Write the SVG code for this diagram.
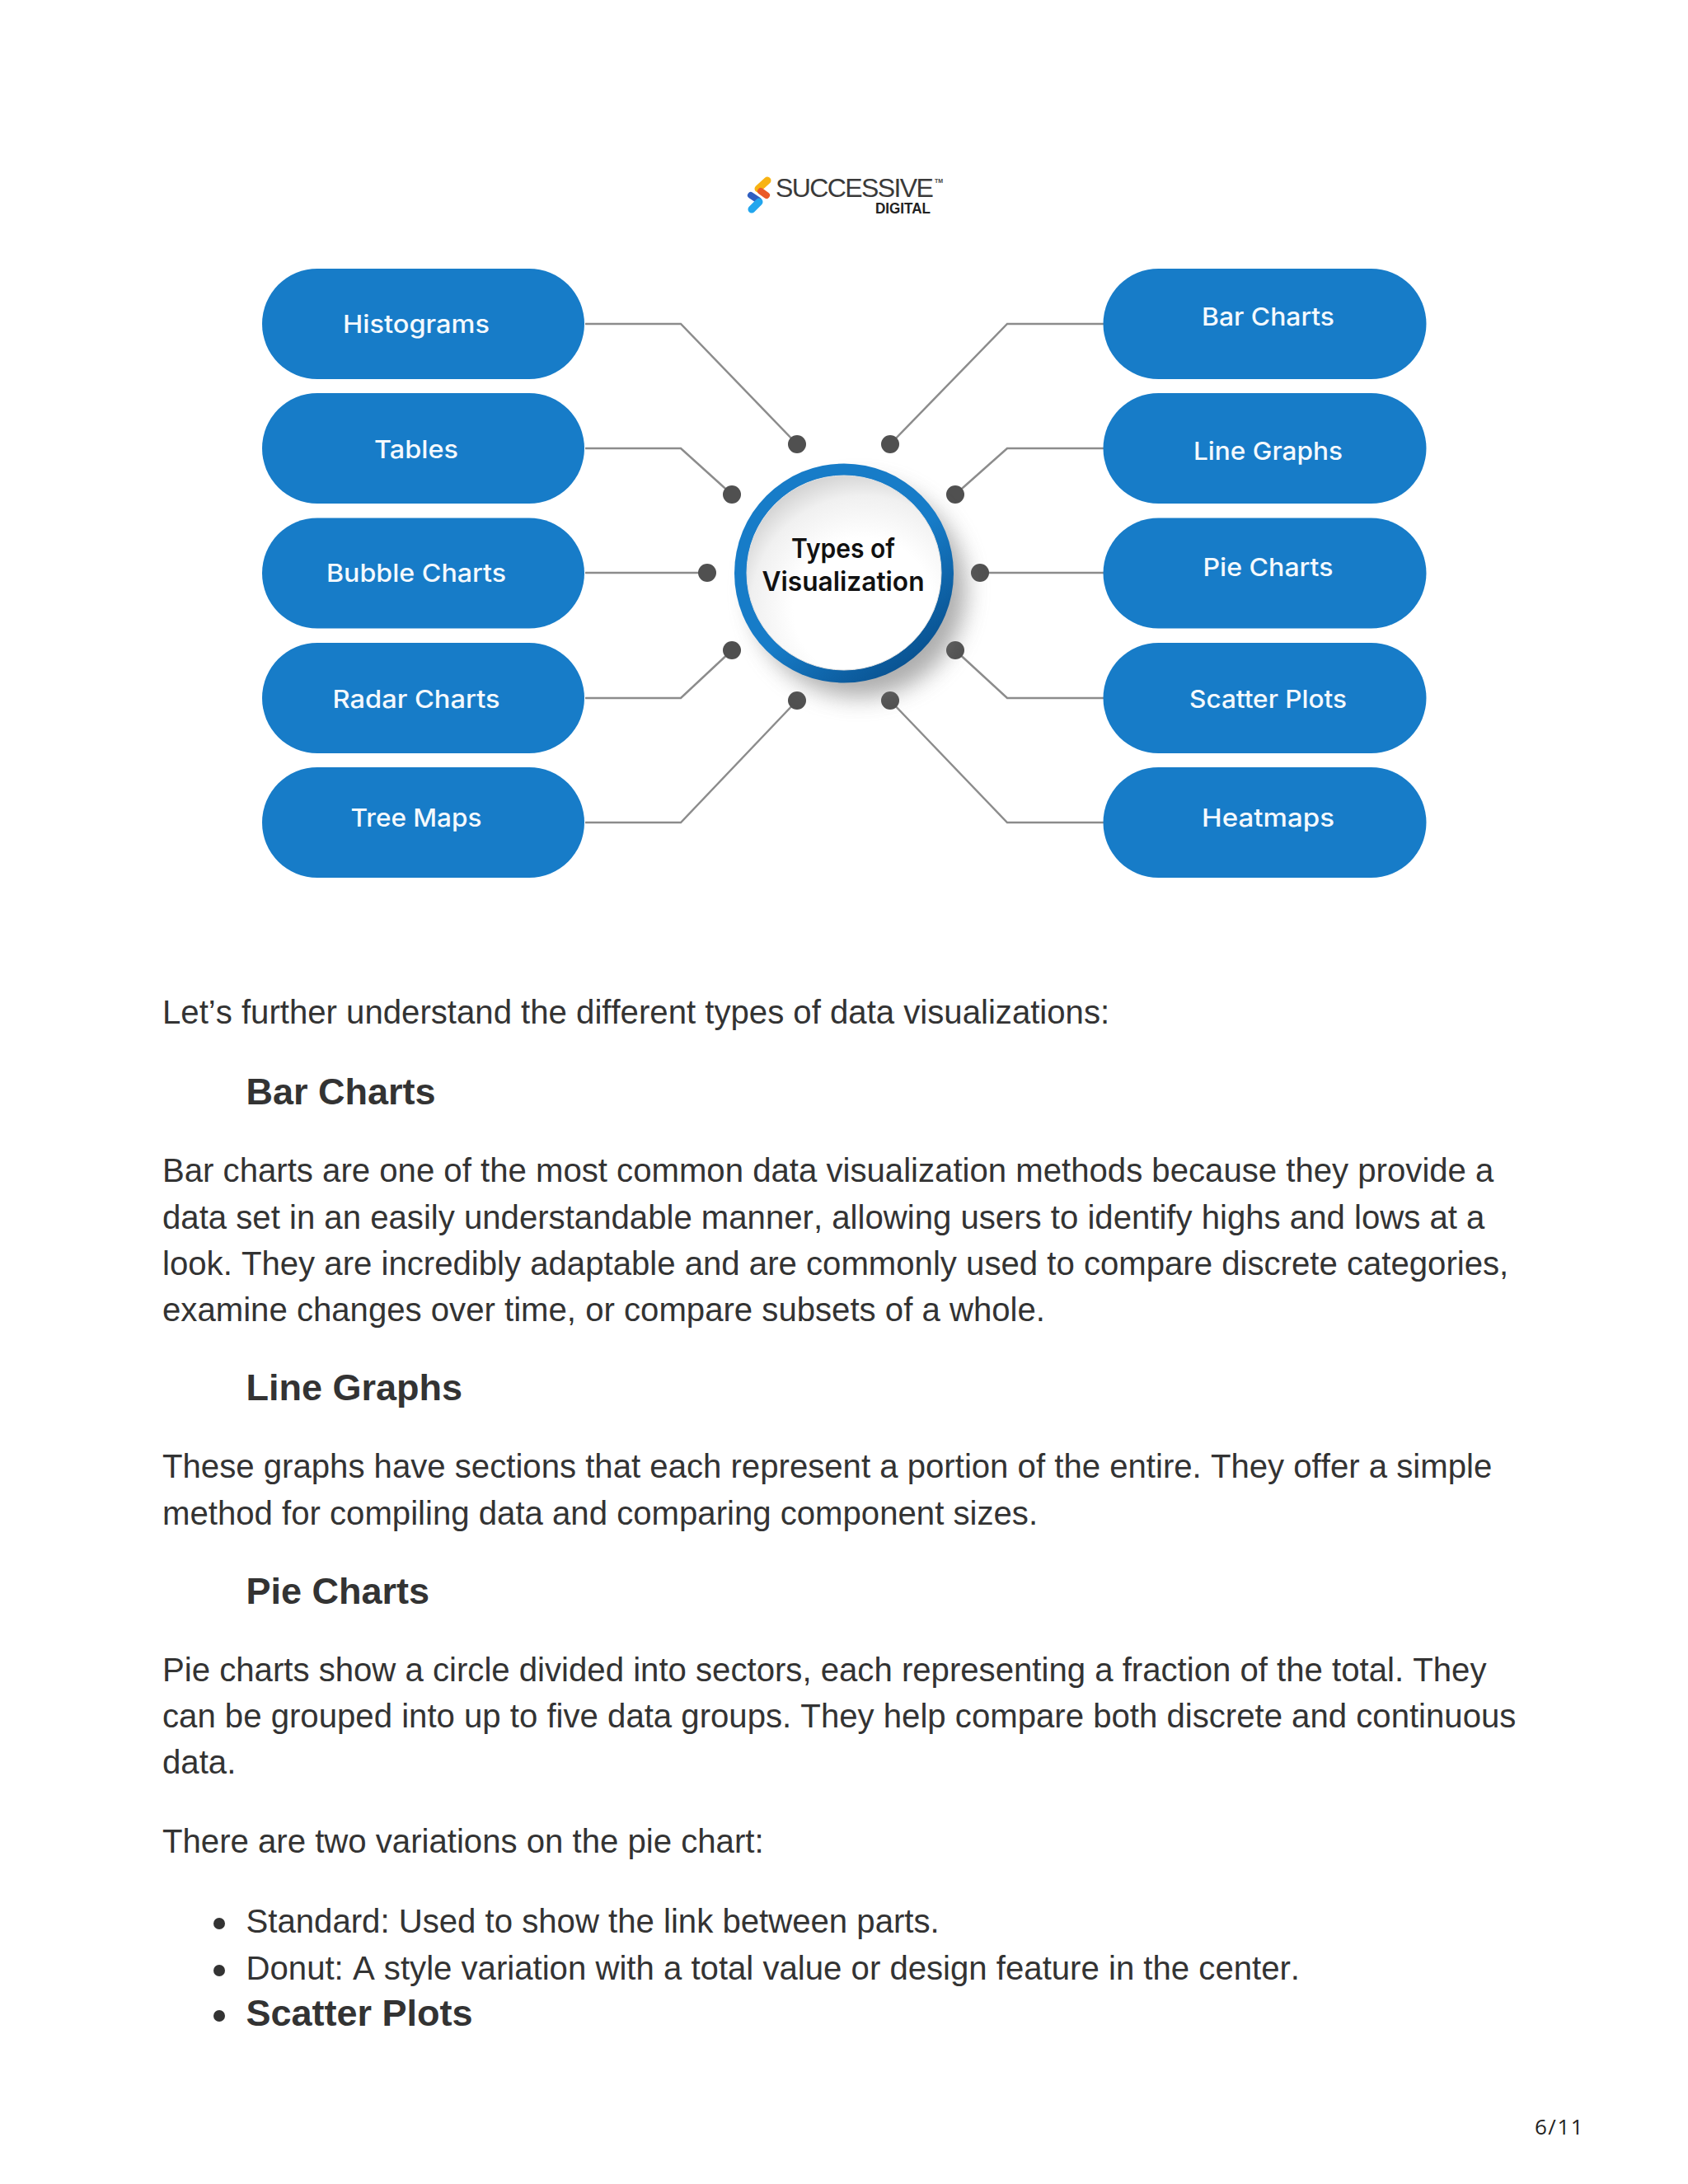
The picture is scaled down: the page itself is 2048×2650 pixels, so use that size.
<svg xmlns="http://www.w3.org/2000/svg" width="2048" height="2650" viewBox="0 0 2048 2650">
<style>
.pill{fill:#177cc8}
.pl{font-family:"Inter","Noto Sans",sans-serif;font-weight:500;font-size:30px;fill:#f4f9fd;text-anchor:middle}
.ct{font-family:"Inter","Noto Sans",sans-serif;font-weight:600;font-size:32px;fill:#111;text-anchor:middle}
.cn{fill:none;stroke:#8c8c8c;stroke-width:2.5}
.dot{fill:#505050}
.b{font-family:"Liberation Sans",Arial,sans-serif;font-size:40.15px;fill:#333;font-kerning:none}
.h{font-family:"Liberation Sans",Arial,sans-serif;font-size:45px;font-weight:700;fill:#333;font-kerning:none}
</style>
<defs>
<linearGradient id="ring" x1="0.2" y1="0.2" x2="0.8" y2="0.95"><stop offset="0.5" stop-color="#177cc8"/><stop offset="1" stop-color="#08508e"/></linearGradient>
<radialGradient id="face" cx="0.6" cy="0.68" r="0.72"><stop offset="0.5" stop-color="#ffffff"/><stop offset="0.8" stop-color="#f0f0f0"/><stop offset="1" stop-color="#cfcfcf"/></radialGradient>
<filter id="blur" x="-30%" y="-30%" width="160%" height="160%"><feGaussianBlur stdDeviation="14"/></filter>
</defs>
<rect width="2048" height="2650" fill="#fff"/>
<g id="logo">
<g fill="none" stroke-linecap="round">
<path d="M931 219L920 229" stroke="#f8b312" stroke-width="9"/>
<path d="M923 232L930 237" stroke="#ea5a28" stroke-width="8"/>
<path d="M911 237L920 243" stroke="#2f5fc0" stroke-width="8"/>
<path d="M921 245L912 254" stroke="#22a6ee" stroke-width="9"/>
</g>
<text x="941" y="239" font-family="Liberation Sans,Arial,sans-serif" font-size="32" fill="#3a3a3a" letter-spacing="-1.6">SUCCESSIVE</text>
<text x="1134" y="222" font-family="Liberation Sans,Arial,sans-serif" font-size="7" font-weight="700" fill="#444">TM</text>
<text x="1062" y="259" font-family="Liberation Sans,Arial,sans-serif" font-size="18" font-weight="700" fill="#222" textLength="67" lengthAdjust="spacingAndGlyphs">DIGITAL</text>
</g>
<g id="connectors">
<path class="cn" d="M710 393H826L967 539"/>
<path class="cn" d="M710 544H826L888 600"/>
<path class="cn" d="M710 695H858"/>
<path class="cn" d="M710 847H826L888 789"/>
<path class="cn" d="M710 998H826L967 850"/>
<path class="cn" d="M1340 393H1222L1080 539"/>
<path class="cn" d="M1340 544H1222L1159 600"/>
<path class="cn" d="M1340 695H1189"/>
<path class="cn" d="M1340 847H1222L1159 789"/>
<path class="cn" d="M1340 998H1222L1080 850"/>
<circle class="dot" cx="967" cy="539" r="11"/><circle class="dot" cx="1080" cy="539" r="11"/>
<circle class="dot" cx="888" cy="600" r="11"/><circle class="dot" cx="1159" cy="600" r="11"/>
<circle class="dot" cx="858" cy="695" r="11"/><circle class="dot" cx="1189" cy="695" r="11"/>
<circle class="dot" cx="888" cy="789" r="11"/><circle class="dot" cx="1159" cy="789" r="11"/>
<circle class="dot" cx="967" cy="850" r="11"/><circle class="dot" cx="1080" cy="850" r="11"/>
</g>
<g id="hub">
<circle cx="1042" cy="716" r="130" fill="#777" opacity="0.6" filter="url(#blur)"/>
<circle cx="1024" cy="695.5" r="133" fill="url(#ring)"/>
<circle cx="1024" cy="695" r="118" fill="url(#face)" stroke="#e4e4e4" stroke-width="1"/>
<text class="ct" x="1023" y="677" textLength="126" lengthAdjust="spacingAndGlyphs">Types of</text>
<text class="ct" x="1023" y="717" textLength="197" lengthAdjust="spacingAndGlyphs">Visualization</text>
</g>
<g id="n-histograms"><rect class="pill" x="318" y="326" width="391" height="134" rx="67"/><text class="pl" x="505" y="404" textLength="178" lengthAdjust="spacingAndGlyphs">Histograms</text></g>
<g id="n-tables"><rect class="pill" x="318" y="477" width="391" height="134" rx="67"/><text class="pl" x="505" y="556" textLength="102" lengthAdjust="spacingAndGlyphs">Tables</text></g>
<g id="n-bubble"><rect class="pill" x="318" y="628.5" width="391" height="134" rx="67"/><text class="pl" x="505" y="706" textLength="218" lengthAdjust="spacingAndGlyphs">Bubble Charts</text></g>
<g id="n-radar"><rect class="pill" x="318" y="780" width="391" height="134" rx="67"/><text class="pl" x="505" y="858.5" textLength="203" lengthAdjust="spacingAndGlyphs">Radar Charts</text></g>
<g id="n-tree"><rect class="pill" x="318" y="931" width="391" height="134" rx="67"/><text class="pl" x="505" y="1003" textLength="159" lengthAdjust="spacingAndGlyphs">Tree Maps</text></g>
<g id="n-bar"><rect class="pill" x="1338.5" y="326" width="392" height="134" rx="67"/><text class="pl" x="1538.5" y="394.5" textLength="161" lengthAdjust="spacingAndGlyphs">Bar Charts</text></g>
<g id="n-line"><rect class="pill" x="1338.5" y="477" width="392" height="134" rx="67"/><text class="pl" x="1538.5" y="558" textLength="181" lengthAdjust="spacingAndGlyphs">Line Graphs</text></g>
<g id="n-pie"><rect class="pill" x="1338.5" y="628.5" width="392" height="134" rx="67"/><text class="pl" x="1538.5" y="698.5" textLength="158" lengthAdjust="spacingAndGlyphs">Pie Charts</text></g>
<g id="n-scatter"><rect class="pill" x="1338.5" y="780" width="392" height="134" rx="67"/><text class="pl" x="1538.5" y="858.5" textLength="191" lengthAdjust="spacingAndGlyphs">Scatter Plots</text></g>
<g id="n-heatmaps"><rect class="pill" x="1338.5" y="931" width="392" height="134" rx="67"/><text class="pl" x="1538.5" y="1003" textLength="161" lengthAdjust="spacingAndGlyphs">Heatmaps</text></g>
<g id="body">
<text class="b" x="197" y="1242">Let’s further understand the different types of data visualizations:</text>
<text class="h" x="298.5" y="1340">Bar Charts</text>
<text class="b" x="197" y="1433.5">Bar charts are one of the most common data visualization methods because they provide a</text>
<text class="b" x="197" y="1490.5">data set in an easily understandable manner, allowing users to identify highs and lows at a</text>
<text class="b" x="197" y="1546.5">look. They are incredibly adaptable and are commonly used to compare discrete categories,</text>
<text class="b" x="197" y="1603">examine changes over time, or compare subsets of a whole.</text>
<text class="h" x="298.5" y="1699">Line Graphs</text>
<text class="b" x="197" y="1793">These graphs have sections that each represent a portion of the entire. They offer a simple</text>
<text class="b" x="197" y="1849.5">method for compiling data and comparing component sizes.</text>
<text class="h" x="298.5" y="1946">Pie Charts</text>
<text class="b" x="197" y="2040">Pie charts show a circle divided into sectors, each representing a fraction of the total. They</text>
<text class="b" x="197" y="2096">can be grouped into up to five data groups. They help compare both discrete and continuous</text>
<text class="b" x="197" y="2152">data.</text>
<text class="b" x="197" y="2248">There are two variations on the pie chart:</text>
<circle cx="266" cy="2334" r="7" fill="#333"/>
<text class="b" x="298.5" y="2345">Standard: Used to show the link between parts.</text>
<circle cx="266" cy="2391" r="7" fill="#333"/>
<text class="b" x="298.5" y="2402">Donut: A style variation with a total value or design feature in the center.</text>
<circle cx="266" cy="2446" r="7" fill="#333"/>
<text class="h" x="298.5" y="2458">Scatter Plots</text>
</g>
<text id="page" x="1862" y="2590" font-family="Open Sans,sans-serif" font-size="26" fill="#222" letter-spacing="1.5">6/11</text>
</svg>
